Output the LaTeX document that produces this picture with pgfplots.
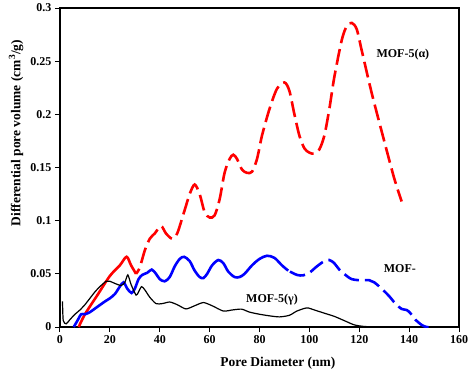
\documentclass[border=0pt]{standalone}
\usepackage{fontspec}
\setmainfont{Liberation Serif}
\usepackage{pgfplots}
\pgfplotsset{compat=1.18}
\begin{document}
\begin{tikzpicture}
\path (-60pt,-57pt) rectangle (414pt,327pt);
\begin{axis}[
  at={(0pt,0pt)}, anchor=south west,
  scale only axis, width=399pt, height=319pt,
  xmin=0, xmax=160, ymin=0, ymax=0.3,
  xtick={0,20,...,160}, ytick={0,0.05,0.1,0.15,0.2,0.25,0.3},
  yticklabels={0,0.05,0.1,0.15,0.2,0.25,0.3},
  tick align=outside, xtick pos=bottom, ytick pos=left,
  major tick length=5pt,
  axis line style={line width=1.3pt},
  tick style={line width=1pt, black},
  /pgf/number format/assume math mode=true,
  tick label style={font=\fontsize{12}{14}\selectfont\bfseries},
  xlabel={Pore Diameter (nm)},
  ylabel={Differential pore volume (cm\textsuperscript{3}/g)},
  label style={font=\fontsize{13.5}{15}\selectfont\bfseries},
  xlabel style={at={([yshift=-36pt]axis description cs:0.546,0)}, anchor=center},
  ylabel style={at={([xshift=-44pt]axis description cs:0,0.608)}, anchor=center},
  clip=true,
]
% MOF-5(alpha) red: solid start
\addplot[red, line width=2.6pt, smooth, tension=0.5] coordinates {
(7.5,0) (10,0.012) (15,0.03) (20,0.048) (24,0.058) (26.7,0.066) (28.5,0.058) (30.5,0.05)
};
% red dashed remainder
\addplot[red, line width=2.6pt, smooth, tension=0.5, dash pattern=on 16pt off 6pt, dash phase=10pt] coordinates {
(30.5,0.05) (32,0.056) (34,0.072) (36,0.083) (38,0.088) (40.5,0.095) (42.5,0.088) (45,0.083)
(47,0.088) (50,0.11) (52,0.125) (54,0.134) (56,0.125) (58,0.108) (60,0.103) (62,0.105)
(64,0.12) (66,0.145) (68,0.158) (69.5,0.162) (71,0.158) (73,0.148) (75,0.145) (77,0.146)
(79,0.158) (81,0.18) (84,0.205) (87,0.224) (90,0.23) (92,0.222) (94,0.2) (96,0.18)
(98,0.168) (100,0.164) (102,0.163) (104,0.167) (106,0.18) (108,0.205) (110,0.235)
(113,0.27) (115,0.283) (117,0.286) (119,0.28) (121,0.26) (125,0.22) (130,0.175) (134,0.14) (137,0.118)
};
% blue solid part
\addplot[blue, line width=2.6pt, smooth, tension=0.5] coordinates {
(5.5,0) (7,0.006) (8.5,0.012) (10,0.012) (12,0.014) (15,0.019) (18,0.024) (20,0.027)
(22,0.031) (24,0.038) (25.5,0.042) (27,0.036) (28.7,0.032) (30,0.036) (31.5,0.045)
(33,0.049) (35,0.051) (36.8,0.054) (38.5,0.05) (40,0.045) (42,0.043) (44,0.047) (46,0.057)
(48,0.064) (49.8,0.066) (52,0.062) (54,0.053) (56,0.047) (57.5,0.046) (59,0.05) (61,0.058)
(63.5,0.063) (65.5,0.06) (67.5,0.052) (70,0.047) (72,0.047) (74,0.05) (77,0.058) (80,0.064)
(83,0.067) (86,0.065) (89,0.058) (91.5,0.053)
};
% blue dashed part
\addplot[blue, line width=2.6pt, smooth, tension=0.5, dash pattern=on 16pt off 6pt, dash phase=-2pt] coordinates {
(91.5,0.053) (95,0.049) (97.5,0.0486) (100,0.051) (103,0.057) (106,0.062) (108,0.063)
(110,0.06) (112,0.054) (115,0.048) (117,0.045) (120,0.044) (124,0.044) (126,0.042)
(129,0.036) (132,0.029) (134.5,0.022) (137,0.017) (139,0.016) (140.5,0.013) (142.5,0.007)
(145,0.002) (147,0) (150,0)
};
% MOF-5(gamma) black
\addplot[black, line width=1.2pt, smooth, tension=0.4] coordinates {
(1,0.024) (1.3,0.006) (2.5,0.003) (4,0.007) (6,0.012) (8,0.016) (10,0.021) (12,0.027)
(14,0.033) (16,0.038) (18.5,0.043) (20,0.043) (22,0.041) (24.5,0.039) (26,0.042)
(27.2,0.049) (28.5,0.04) (30.5,0.030) (31.5,0.033) (32.7,0.038) (34,0.035) (36,0.028)
(38.5,0.022) (41,0.022) (44,0.0235) (47,0.021) (50.5,0.017) (54,0.02) (57.5,0.023)
(61,0.02) (65.5,0.015) (69,0.016) (72.8,0.0168) (76,0.014) (80,0.012) (84,0.0105)
(88,0.0095) (92,0.011) (95,0.015) (99,0.018) (102,0.016) (106,0.013) (110,0.010)
(114,0.006) (118,0.002) (122,0.0005) (128,0) (135,0)
};
\node[font=\fontsize{12}{14}\selectfont\bfseries] at (axis cs:137.5,0.2558) {MOF-5(α)};
\node[font=\fontsize{12}{14}\selectfont\bfseries] at (axis cs:136.3,0.0545) {MOF-};
\node[font=\fontsize{12}{14}\selectfont\bfseries] at (axis cs:85,0.0254) {MOF-5(γ)};
\end{axis}
\end{tikzpicture}
\end{document}
